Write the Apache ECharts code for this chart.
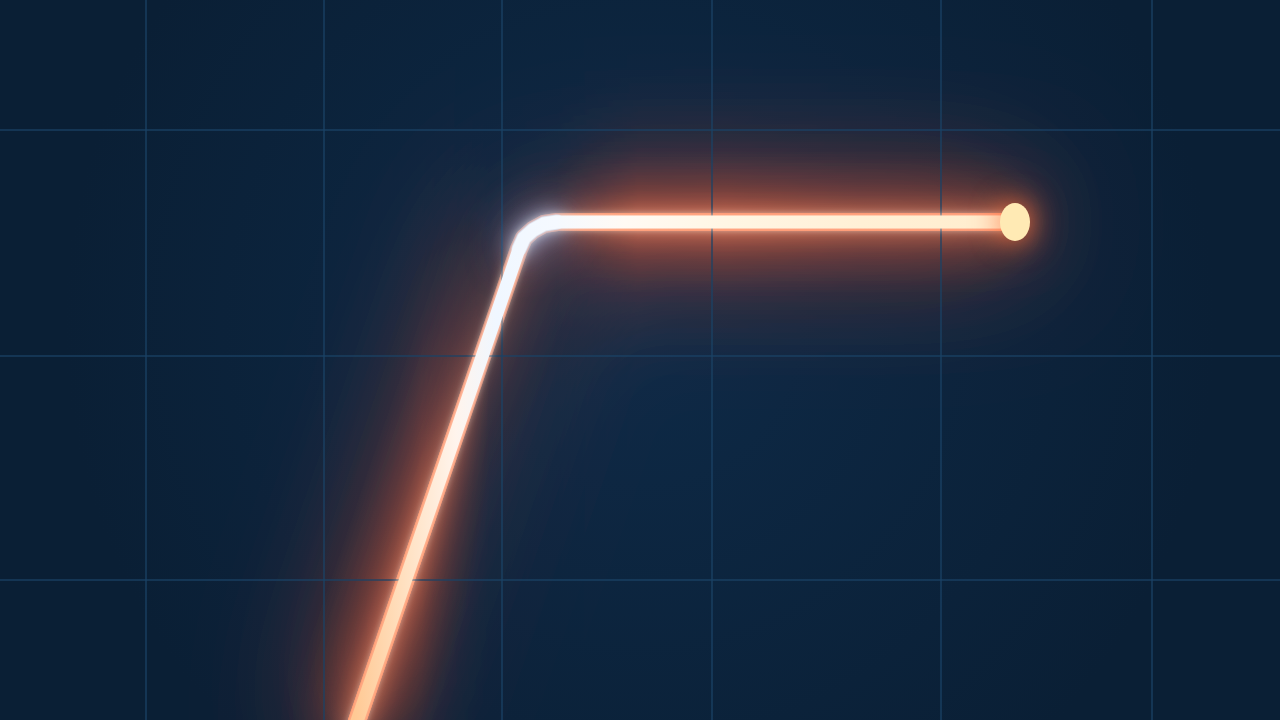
<!DOCTYPE html>
<html>
<head>
<meta charset="utf-8">
<style>
html,body{margin:0;padding:0;background:#0b2139;}
#chart{width:1280px;height:720px;}
</style>
<script src="https://cdn.jsdelivr.net/npm/echarts@6/dist/echarts.min.js"></script>
</head>
<body>
<div id="chart"></div>
<script>
// Line path (x, y) in chart units (x: 0..1280, y: 0..720 bottom-up)
const lineX = [354, 519, 524, 533, 544, 557, 712, 1015];
const lineY = [-10, 471, 482, 490, 496, 498, 498, 498];
// End marker
const endX = [1015];
const endY = [498];
// Background grid positions
const gridX = [146, 324, 502, 712, 941, 1152];
const gridY = [590, 364, 140];

const chart = echarts.init(document.getElementById('chart'));
const pts = lineX.map((x, i) => [x, lineY[i]]);
const cornerPts = pts.filter(p => p[0] >= 460 && p[0] <= 600);

function grad(stops) {
  return new echarts.graphic.LinearGradient(354, 0, 1030, 0,
    stops.map(s => ({offset: s[0], color: s[1]})), true);
}

const coreGrad = grad([
  [0, '#ffc994'], [0.08, '#ffe2c4'], [0.15, '#fff4ec'], [0.21, '#f0f7ff'],
  [0.3, '#f5f9ff'], [0.4, '#fffaf4'], [0.55, '#fff6e4'], [0.75, '#fff0d6'],
  [0.98, '#ffeccc'], [1, '#ffeccc']
]);
// glow strength varies along the path through the stroke alpha
const glowGrad = grad([
  [0, 'rgba(255,120,60,0.9)'], [0.1, 'rgba(255,130,80,0.85)'], [0.2, 'rgba(255,150,120,0.3)'],
  [0.3, 'rgba(255,140,100,0.4)'], [0.42, 'rgba(255,120,70,0.95)'], [0.55, 'rgba(255,110,60,1)'],
  [0.75, 'rgba(255,110,60,0.85)'], [1, 'rgba(255,110,60,0.8)']
]);

function lineLayer(data, width, color, blur, shadow, z) {
  return {
    type: 'line', data: data, showSymbol: false, silent: true, z: z,
    lineStyle: {width: width, color: color, cap: 'round', join: 'round',
      shadowBlur: blur, shadowColor: shadow}
  };
}

chart.setOption({
  animation: false,
  backgroundColor: {
    type: 'radial', x: 0.5, y: 0.45, r: 0.8,
    colorStops: [{offset: 0, color: '#0e2a47'}, {offset: 1, color: '#0a1f35'}]
  },
  grid: {left: 0, right: 0, top: 0, bottom: 0},
  xAxis: {type: 'value', min: 0, max: 1280, show: false},
  yAxis: {type: 'value', min: 0, max: 720, show: false},
  series: [
    {
      type: 'scatter', data: [], silent: true, z: 1,
      markLine: {
        silent: true, symbol: ['none', 'none'], label: {show: false},
        lineStyle: {color: '#1a4266', width: 2, type: 'solid', opacity: 0.65},
        data: gridX.map(x => ({xAxis: x})).concat(gridY.map(y => ({yAxis: y})))
      }
    },
    lineLayer(pts, 18, glowGrad, 150, 'rgba(255,80,45,0.9)', 2),
    lineLayer(pts, 18, glowGrad, 120, 'rgba(255,85,45,0.9)', 2),
    lineLayer(pts, 18, glowGrad, 120, 'rgba(255,85,45,0.9)', 2),
    lineLayer(pts, 16, glowGrad, 60, 'rgba(255,105,60,1)', 3),
    lineLayer(pts, 16, glowGrad, 60, 'rgba(255,105,60,1)', 3),
    lineLayer(pts, 15, glowGrad, 25, 'rgba(255,150,110,1)', 4),
    lineLayer(cornerPts, 15, 'rgba(200,220,255,0.8)', 45, 'rgba(140,185,255,1)', 5),
    lineLayer(cornerPts, 14, 'rgba(210,228,255,0.9)', 20, 'rgba(170,205,255,1)', 5),
    lineLayer(pts, 13, coreGrad, 8, 'rgba(255,240,225,0.9)', 6),
    {
      type: 'scatter', silent: true, z: 7,
      data: endX.map((x, i) => [x, endY[i]]),
      symbol: 'circle', symbolSize: [30, 38],
      itemStyle: {color: '#ffeab4', opacity: 1, shadowBlur: 30, shadowColor: 'rgba(255,110,55,1)'}
    }
  ]
});
</script>
</body>
</html>
